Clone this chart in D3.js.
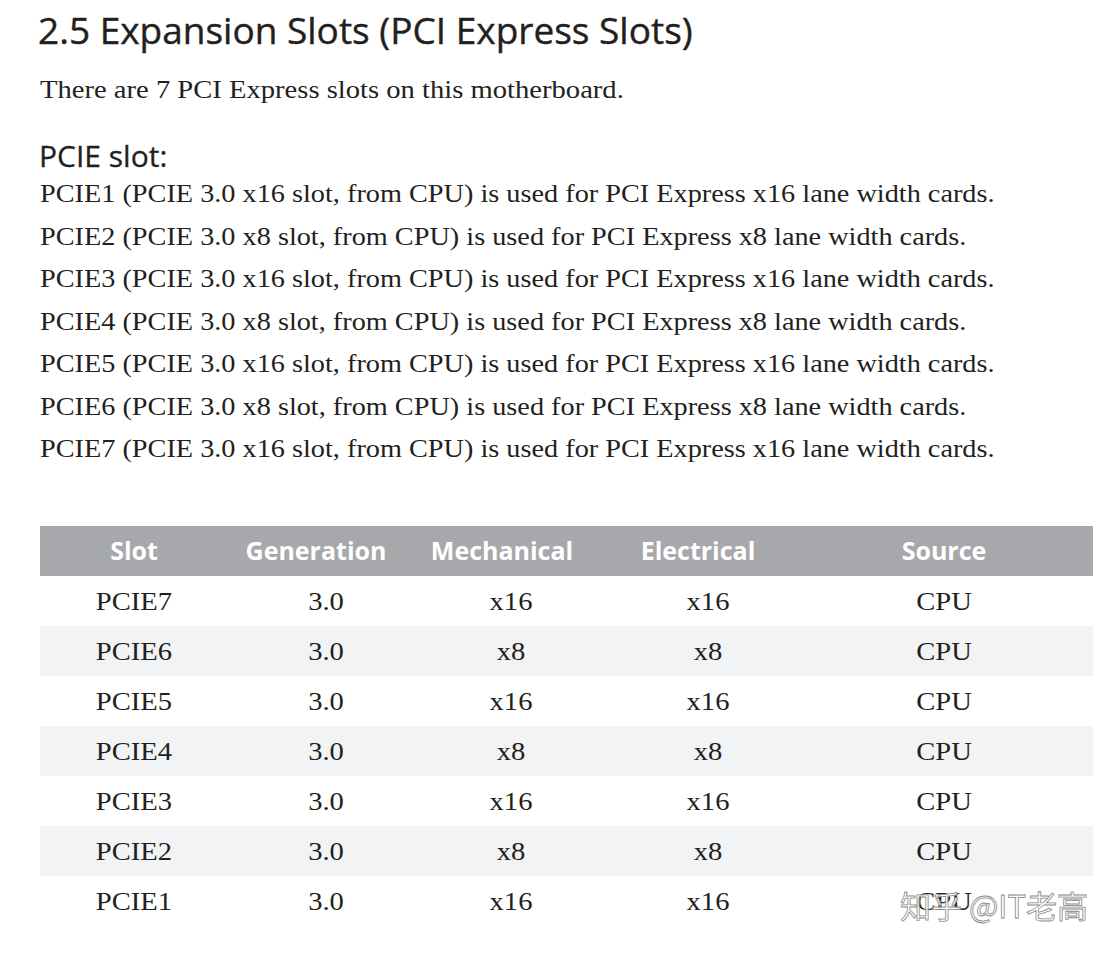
<!DOCTYPE html>
<html><head><meta charset="utf-8">
<script src="https://cdn.jsdelivr.net/npm/d3@7"></script>
<style>body{margin:0;background:#fff}</style>
</head><body>
<div id="chart"></div>
<script>
let title = "2.5  Expansion Slots (PCI Express Slots)";
let intro = "There are 7 PCI Express slots on this motherboard.";
let subtitle = "PCIE slot:";
let lines = [
  "PCIE1 (PCIE 3.0 x16 slot, from CPU) is used for PCI Express x16 lane width cards.",
  "PCIE2 (PCIE 3.0 x8 slot, from CPU) is used for PCI Express x8 lane width cards.",
  "PCIE3 (PCIE 3.0 x16 slot, from CPU) is used for PCI Express x16 lane width cards.",
  "PCIE4 (PCIE 3.0 x8 slot, from CPU) is used for PCI Express x8 lane width cards.",
  "PCIE5 (PCIE 3.0 x16 slot, from CPU) is used for PCI Express x16 lane width cards.",
  "PCIE6 (PCIE 3.0 x8 slot, from CPU) is used for PCI Express x8 lane width cards.",
  "PCIE7 (PCIE 3.0 x16 slot, from CPU) is used for PCI Express x16 lane width cards."
];
let columns = ["Slot", "Generation", "Mechanical", "Electrical", "Source"];
let slots = ["PCIE7", "PCIE6", "PCIE5", "PCIE4", "PCIE3", "PCIE2", "PCIE1"];
let generation = ["3.0", "3.0", "3.0", "3.0", "3.0", "3.0", "3.0"];
let mechanical = ["x16", "x8", "x16", "x8", "x16", "x8", "x16"];
let electrical = ["x16", "x8", "x16", "x8", "x16", "x8", "x16"];
let source = ["CPU", "CPU", "CPU", "CPU", "CPU", "CPU", "CPU"];

let width = 1118, height = 955;
let serif = "'Liberation Serif', 'DejaVu Serif', serif";
let sans = "'Open Sans', 'Noto Sans', sans-serif";

let svg = d3.select("#chart").append("svg")
  .attr("width", width).attr("height", height);

// widen serif text a bit, Minion runs wider than Liberation Serif
function widen(sel, k) {
  sel.each(function () {
    let w = this.getComputedTextLength();
    d3.select(this).attr("textLength", w * k).attr("lengthAdjust", "spacingAndGlyphs");
  });
}

svg.append("text").attr("x", 38).attr("y", 44)
  .style("font-family", sans).style("font-size", "37px").attr("fill", "#231f20")
  .attr("stroke", "#231f20").attr("stroke-width", 0.4)
  .text(title);
svg.append("text").attr("x", 40).attr("y", 98)
  .style("font-family", serif).style("font-size", "26px").attr("fill", "#231f20")
  .text(intro).call(widen, 1.1);
svg.append("text").attr("x", 39).attr("y", 167)
  .style("font-family", sans).style("font-size", "30px").attr("fill", "#231f20")
  .attr("stroke", "#231f20").attr("stroke-width", 0.3)
  .text(subtitle);

let ly = d3.scalePoint().domain(d3.range(lines.length)).range([202, 457]);
svg.selectAll(".line").data(lines).join("text")
  .attr("x", 40).attr("y", (d, i) => ly(i))
  .style("font-family", serif).style("font-size", "26px").attr("fill", "#231f20")
  .text(d => d).call(widen, 1.087);

// table
let tx0 = 40, tx1 = 1093;
let x = d3.scaleOrdinal().domain(columns).range([134, 326, 511, 708, 944]);
let xh = d3.scaleOrdinal().domain(columns).range([134, 316, 502, 698, 944]);
let y = d3.scaleBand().domain(d3.range(slots.length + 1)).range([526, 926]);

svg.append("rect").attr("x", tx0).attr("y", y(0)).attr("width", tx1 - tx0)
  .attr("height", y.bandwidth()).attr("fill", "#a7a8ab");
svg.selectAll(".hd").data(columns).join("text")
  .attr("x", d => xh(d)).attr("y", y(0) + y.bandwidth() / 2 + 9)
  .attr("text-anchor", "middle").attr("fill", "#fff")
  .style("font-family", sans).style("font-size", "25px").style("font-weight", "bold")
  .text(d => d);

let rows = slots.map((s, i) => [s, generation[i], mechanical[i], electrical[i], source[i]]);
let g = svg.selectAll(".row").data(rows).join("g")
  .attr("transform", (d, i) => `translate(0,${y(i + 1)})`);
g.append("rect").attr("x", tx0).attr("width", tx1 - tx0).attr("height", y.bandwidth())
  .attr("fill", (d, i) => i % 2 ? "#f2f3f5" : "#fff");
g.selectAll("text").data(d => d).join("text")
  .attr("x", (d, i) => x(columns[i])).attr("y", y.bandwidth() / 2 + 9)
  .attr("text-anchor", "middle").attr("fill", "#231f20")
  .style("font-family", serif).style("font-size", "26px")
  .text(d => d).call(widen, 1.1);

// watermark
svg.append("text").attr("x", 1088).attr("y", 918).attr("text-anchor", "end")
  .style("font-family", "'Noto Sans CJK SC', sans-serif").style("font-size", "31px")
  .attr("fill", "#fff").attr("fill-opacity", 0.85)
  .attr("stroke", "#888").attr("stroke-width", 0.8)
  .text("知乎 @IT老高");
</script>
</body></html>
